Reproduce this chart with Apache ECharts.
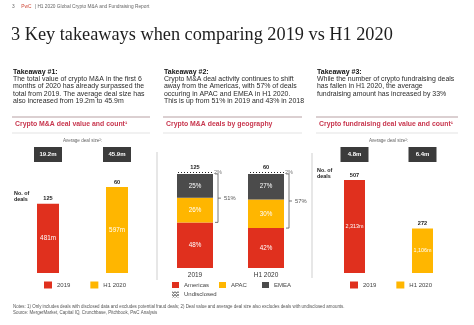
<!DOCTYPE html>
<html><head><meta charset="utf-8">
<script src="https://cdn.jsdelivr.net/npm/echarts@6/dist/echarts.min.js"></script>
<style>html,body{margin:0;padding:0;background:#fff}#c{width:474px;height:325px}</style>
</head><body><div id="c"></div>
<script>
// ---- data ----
const categories = ['2019', 'H1 2020'];
const maValue = [481, 597];        // Crypto M&A deal value (m)
const maDeals = [125, 60];         // No. of deals
const maAvg = ['19.2m', '45.9m'];  // average deal size
const geoAmericas = [48, 42];
const geoAPAC = [26, 30];
const geoEMEA = [25, 27];
const geoUndisclosed = [2, 2];
const geoDeals = [125, 60];
const geoShare = [51, 57];         // APAC + EMEA share
const frValue = [2313, 1106];      // Crypto fundraising value (m)
const frDeals = [507, 272];
const frAvg = ['4.8m', '6.4m'];

const RED = '#e0301e', YEL = '#ffb600', DGR = '#4b4b4b', ROSE = '#c8374f';
const SANS = 'Liberation Sans, Arial, sans-serif';

// hatch pattern for "Undisclosed"
const pc = document.createElement('canvas');
pc.width = 3; pc.height = 3;
const g = pc.getContext('2d');
g.fillStyle = '#fff'; g.fillRect(0, 0, 3, 3);
g.fillStyle = '#222'; g.fillRect(0, 0, 1, 1); g.fillRect(1, 1, 1, 1); g.fillRect(2, 0, 1, 1);
const HATCH = { image: pc, repeat: 'repeat' };

const chart = echarts.init(document.getElementById('c'), null, { renderer: 'canvas' });

function xAx(i, show) {
  return { type: 'category', gridIndex: i, data: categories, axisLine: { show: false }, axisTick: { show: false },
    axisLabel: { show: show, fontSize: 6.5, color: '#333', fontFamily: SANS, margin: 4 } };
}
function yAx(i, max) {
  return { type: 'value', gridIndex: i, min: 0, max: max, show: false, splitLine: { show: false } };
}
const inLabel = { show: true, position: 'inside', color: '#fff', fontSize: 6.3, fontFamily: SANS };
const topLabel = (arr) => ({ show: true, position: 'top', distance: 2, color: '#222', fontSize: 5.6, fontWeight: 'bold', fontFamily: SANS, formatter: p => arr[p.dataIndex] });
const frFmt = p => p.value.toLocaleString('en-US') + 'm';

const series = [
  // chart 1
  { name: '2019', type: 'bar', xAxisIndex: 0, yAxisIndex: 0, barWidth: 22, barGap: '-100%', data: [maValue[0], '-'], itemStyle: { color: RED },
    label: Object.assign({}, inLabel, { formatter: '{c}m' }) },
  { name: 'H1 2020', type: 'bar', xAxisIndex: 0, yAxisIndex: 0, barWidth: 22, barGap: '-100%', data: ['-', maValue[1]], itemStyle: { color: YEL },
    label: Object.assign({}, inLabel, { formatter: '{c}m' }) },
  { type: 'bar', xAxisIndex: 0, yAxisIndex: 0, barWidth: 22, barGap: '-100%', data: maValue.slice(), itemStyle: { color: 'rgba(0,0,0,0)' },
    label: topLabel(maDeals), silent: true, z: 1 },
  // chart 2
  { name: 'Americas', type: 'bar', stack: 'g', xAxisIndex: 1, yAxisIndex: 1, barWidth: 36, barGap: '-100%', data: geoAmericas, itemStyle: { color: RED },
    label: Object.assign({}, inLabel, { formatter: '{c}%' }) },
  { name: 'APAC', type: 'bar', stack: 'g', xAxisIndex: 1, yAxisIndex: 1, barWidth: 36, barGap: '-100%', data: geoAPAC, itemStyle: { color: YEL },
    label: Object.assign({}, inLabel, { formatter: '{c}%' }) },
  { name: 'EMEA', type: 'bar', stack: 'g', xAxisIndex: 1, yAxisIndex: 1, barWidth: 36, barGap: '-100%', data: geoEMEA, itemStyle: { color: DGR },
    label: Object.assign({}, inLabel, { formatter: '{c}%' }) },
  { name: 'Undisclosed', type: 'bar', stack: 'g', xAxisIndex: 1, yAxisIndex: 1, barWidth: 36, barGap: '-100%', data: geoUndisclosed, itemStyle: { color: HATCH },
    label: { show: true, position: 'right', distance: 1, color: '#777', fontSize: 5.5, fontFamily: SANS, formatter: '{c}%' } },
  { type: 'bar', xAxisIndex: 1, yAxisIndex: 1, barWidth: 36, barGap: '-100%', silent: true, z: 1,
    data: geoAmericas.map((v, i) => v + geoAPAC[i] + geoEMEA[i] + geoUndisclosed[i]), itemStyle: { color: 'rgba(0,0,0,0)' },
    label: topLabel(geoDeals) },
  // chart 3
  { name: '2019', type: 'bar', xAxisIndex: 2, yAxisIndex: 2, barWidth: 21, barGap: '-100%', data: [frValue[0], '-'], itemStyle: { color: RED },
    label: Object.assign({}, inLabel, { fontSize: 5.4, formatter: frFmt }) },
  { name: 'H1 2020', type: 'bar', xAxisIndex: 2, yAxisIndex: 2, barWidth: 21, barGap: '-100%', data: ['-', frValue[1]], itemStyle: { color: YEL },
    label: Object.assign({}, inLabel, { fontSize: 5.4, formatter: frFmt }) },
  { type: 'bar', xAxisIndex: 2, yAxisIndex: 2, barWidth: 21, barGap: '-100%', data: frValue.slice(), itemStyle: { color: 'rgba(0,0,0,0)' },
    label: topLabel(frDeals), silent: true, z: 1 }
];

const legTxt = { fontSize: 6, color: '#444', fontFamily: SANS };
function leg(names, left, top, gap) {
  return { data: names, left: left, top: top, orient: 'horizontal', itemWidth: 8, itemHeight: 7, itemGap: gap, icon: 'rect',
    textStyle: legTxt, padding: 0, selectedMode: false };
}

chart.setOption({
  animation: false,
  grid: [
    { left: 13.5, width: 138, top: 129, height: 144 },
    { left: 159.5, width: 142, top: 172, height: 96 },
    { left: 320.5, width: 136, top: 172.5, height: 100.5 }
  ],
  xAxis: [xAx(0, false), xAx(1, true), xAx(2, false)],
  yAxis: [yAx(0, 1000), yAx(1, 101), yAx(2, 2500)],
  legend: [
    leg(['2019', 'H1 2020'], 44, 281.5, 20),
    Object.assign(leg(['Americas'], 172, 282, 10), { itemWidth: 7, itemHeight: 6 }),
    Object.assign(leg(['APAC'], 219, 282, 10), { itemWidth: 7, itemHeight: 6 }),
    Object.assign(leg(['EMEA'], 262, 282, 10), { itemWidth: 7, itemHeight: 6 }),
    Object.assign(leg(['Undisclosed'], 172, 291.5, 10), { itemWidth: 7, itemHeight: 6 }),
    leg(['2019', 'H1 2020'], 350, 281.5, 20)
  ],
  series: series
});

// ---- text & decorations ----
const els = [];
function T(x, y, text, st) {
  els.push({ type: 'text', x: x, y: y, silent: true,
    style: Object.assign({ text: text, fill: '#222', fontSize: 6.4, fontFamily: SANS, verticalAlign: 'middle', align: 'left' }, st || {}) });
}
function L(x1, y1, x2, y2, c, w) {
  els.push({ type: 'line', silent: true, shape: { x1: x1, y1: y1, x2: x2, y2: y2 }, style: { stroke: c, lineWidth: w || 1 } });
}

// header
els.push({ type: 'text', x: 12, y: 7, silent: true, style: {
  text: '{g|3}  {r|PwC} {g|| H1 2020 Global Crypto M&A and Fundraising Report}', verticalAlign: 'middle', fontFamily: SANS,
  rich: { g: { fill: '#666', fontSize: 4.8, fontFamily: SANS }, r: { fill: '#d04a3a', fontSize: 4.8, fontFamily: SANS } } } });
T(11, 35.5, '3 Key takeaways when comparing 2019 vs H1 2020', { fontFamily: 'Liberation Serif, serif', fontSize: 18.3, fill: '#1e1e1e' });

// takeaways
const cols = [
  { x: 13, x2: 150, title: 'Takeaway #1:', lines: ['The total value of crypto M&A in the first 6', 'months of 2020 has already surpassed the', 'total from 2019. The average deal size has', 'also increased from 19.2m to 45.9m'], head: 'Crypto M&A deal value and count¹' },
  { x: 164, x2: 302, title: 'Takeaway #2:', lines: ['Crypto M&A deal activity continues to shift', 'away from the Americas, with 57% of deals', 'occuring in APAC and EMEA in H1 2020.', 'This is up from 51% in 2019 and 43% in 2018'], head: 'Crypto M&A deals by geography' },
  { x: 317, x2: 458, title: 'Takeaway #3:', lines: ['While the number of crypto fundraising deals', 'has fallen in H1 2020, the average', 'fundraising amount has increased by 33%'], head: 'Crypto fundraising deal value and count¹' }
];
cols.forEach(c => {
  T(c.x, 71.6, c.title, { fontWeight: 'bold', fontSize: 7, fill: '#111' });
  c.lines.forEach((ln, i) => T(c.x, 78.9 + i * 7.5, ln, { fontSize: 6.95, fill: '#2a2a2a' }));
  L(c.x - 1, 117, c.x2, 117, '#b7a0a3', 1);
  T(c.x + 2, 124, c.head, { fontWeight: 'bold', fontSize: 6.9, fill: ROSE });
  L(c.x - 1, 133, c.x2, 133, '#dcdcdc', 0.8);
});

// vertical separators
L(157, 152, 157, 280, '#cfcfcf', 1);
L(312, 153, 312, 278, '#cfcfcf', 1);

// average deal size boxes
function boxes(gi, labels) {
  const p0 = chart.convertToPixel({ gridIndex: gi }, [0, 0]);
  const p1 = chart.convertToPixel({ gridIndex: gi }, [1, 0]);
  T((p0[0] + p1[0]) / 2, 140.5, 'Average deal size²:', { align: 'center', fontSize: 4.6, fill: '#666' });
  [p0, p1].forEach((p, i) => {
    els.push({ type: 'rect', silent: true, shape: { x: p[0] - 14, y: 147, width: 28, height: 15 }, style: { fill: '#3b3b3b' } });
    T(p[0], 154.7, labels[i], { align: 'center', fill: '#fff', fontWeight: 'bold', fontSize: 6 });
  });
}
boxes(0, maAvg);
boxes(2, frAvg);

// No. of deals
T(14, 193.5, 'No. of', { fontWeight: 'bold', fontSize: 5.4, fill: '#222' });
T(14, 200, 'deals', { fontWeight: 'bold', fontSize: 5.4, fill: '#222' });
T(317, 170.5, 'No. of', { fontWeight: 'bold', fontSize: 5.4, fill: '#222' });
T(317, 177, 'deals', { fontWeight: 'bold', fontSize: 5.4, fill: '#222' });

// brackets for APAC + EMEA share
[0, 1].forEach(i => {
  const lo = geoAmericas[i], hi = geoAmericas[i] + geoAPAC[i] + geoEMEA[i];
  const a = chart.convertToPixel({ gridIndex: 1 }, [i, lo]);
  const b = chart.convertToPixel({ gridIndex: 1 }, [i, hi]);
  const x0 = a[0] + 18 + 2, x1 = x0 + 3, ym = (a[1] + b[1]) / 2;
  els.push({ type: 'polyline', silent: true, shape: { points: [[x0, b[1]], [x1, b[1]], [x1, a[1]], [x0, a[1]]] }, style: { stroke: '#555', lineWidth: 0.8, fill: null } });
  L(x1, ym, x1 + 3, ym, '#555', 0.8);
  T(x1 + 6, ym, geoShare[i] + '%', { fontSize: 5.8, fill: '#555' });
});

// notes
T(13, 307, 'Notes: 1) Only includes deals with disclosed data and excludes potential fraud deals; 2) Deal value and average deal size also excludes deals with undisclosed amounts.', { fontSize: 4.45, fill: '#555' });
T(13, 313, 'Source: MergerMarket, Capital IQ, Crunchbase, Pitchbook, PwC Analysis', { fontSize: 4.45, fill: '#555' });

chart.setOption({ graphic: els });
</script></body></html>
